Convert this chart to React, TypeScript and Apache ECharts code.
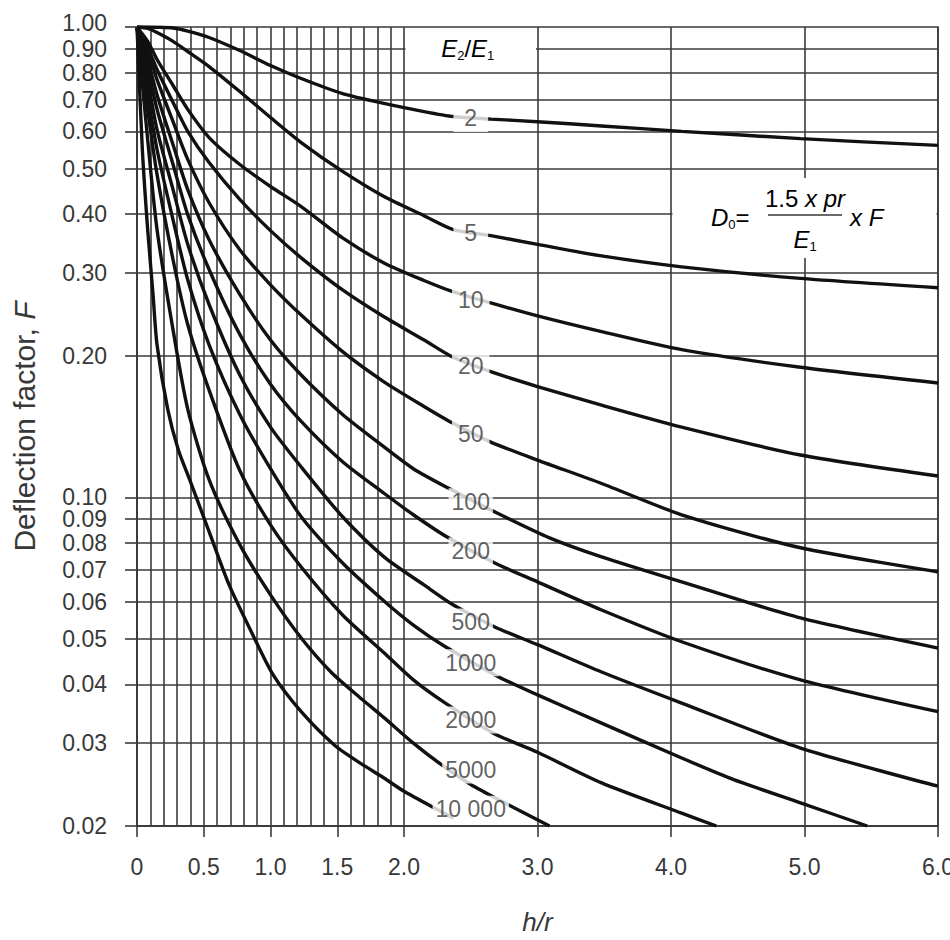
import React, { useEffect, useRef } from "react";
import * as echarts from "echarts";

// Vertical grid lines (h/r) and labelled ticks
const gridX = [0, 0.1, 0.2, 0.3, 0.4, 0.5, 0.6, 0.7, 0.8, 0.9, 1.0, 1.1, 1.2, 1.3, 1.4, 1.5, 1.6, 1.7, 1.8, 1.9, 2.0, 3.0, 4.0, 5.0, 6.0];
const tickX = [0, 0.5, 1.0, 1.5, 2.0, 3.0, 4.0, 5.0, 6.0];
// Horizontal grid lines / ticks (deflection factor F)
const tickY = [0.02, 0.03, 0.04, 0.05, 0.06, 0.07, 0.08, 0.09, 0.1, 0.2, 0.3, 0.4, 0.5, 0.6, 0.7, 0.8, 0.9];
const topTick = 1.0;

// Curve names (E2/E1)
const ratios = ["2", "5", "10", "20", "50", "100", "200", "500", "1000", "2000", "5000", "10 000"];

// Curves: [h/r, F]
const c2 = [[0, 1.0], [0.08, 1.0], [0.15, 0.999], [0.27, 0.995], [0.38, 0.98], [0.54, 0.95], [0.77, 0.891], [1.0, 0.828], [1.23, 0.777], [1.54, 0.722], [1.85, 0.688], [2.15, 0.661], [2.37, 0.645], [2.65, 0.637], [3.0, 0.629], [3.48, 0.616], [4.08, 0.6], [4.97, 0.579], [6.0, 0.56]];
const c5 = [[0, 1.0], [0.08, 0.993], [0.15, 0.973], [0.27, 0.932], [0.38, 0.887], [0.54, 0.824], [0.77, 0.729], [1.0, 0.642], [1.23, 0.568], [1.54, 0.493], [1.85, 0.436], [2.15, 0.397], [2.37, 0.371], [2.65, 0.36], [3.0, 0.345], [3.48, 0.326], [4.08, 0.309], [4.97, 0.292], [6.0, 0.279]];
const c10 = [[0, 1.0], [0.08, 0.932], [0.15, 0.853], [0.27, 0.751], [0.38, 0.668], [0.54, 0.582], [0.77, 0.51], [1.0, 0.458], [1.23, 0.415], [1.54, 0.356], [1.85, 0.315], [2.15, 0.289], [2.36, 0.274], [2.65, 0.259], [3.0, 0.243], [3.48, 0.225], [4.08, 0.206], [4.97, 0.189], [6.0, 0.175]];
const c20 = [[0, 1.0], [0.08, 0.905], [0.15, 0.812], [0.27, 0.691], [0.38, 0.6], [0.54, 0.515], [0.77, 0.43], [1.0, 0.369], [1.23, 0.323], [1.54, 0.276], [1.85, 0.242], [2.15, 0.216], [2.36, 0.199], [2.65, 0.185], [3.0, 0.172], [3.48, 0.157], [4.08, 0.141], [4.97, 0.123], [6.0, 0.111]];
const c50 = [[0, 1.0], [0.08, 0.887], [0.15, 0.773], [0.27, 0.629], [0.38, 0.523], [0.54, 0.423], [0.77, 0.336], [1.0, 0.283], [1.23, 0.244], [1.54, 0.204], [1.85, 0.176], [2.15, 0.156], [2.36, 0.144], [2.65, 0.131], [3.0, 0.12], [3.48, 0.107], [4.08, 0.0918], [4.97, 0.0781], [6.0, 0.0694]];
const c100 = [[0, 1.0], [0.08, 0.853], [0.15, 0.718], [0.27, 0.562], [0.38, 0.451], [0.54, 0.353], [0.77, 0.27], [1.0, 0.216], [1.23, 0.182], [1.54, 0.15], [1.85, 0.128], [2.07, 0.115], [2.32, 0.105], [2.68, 0.0931], [3.09, 0.082], [3.48, 0.0747], [4.08, 0.0661], [4.97, 0.0554], [6.0, 0.0478]];
const c200 = [[0, 1.0], [0.08, 0.82], [0.15, 0.668], [0.27, 0.51], [0.38, 0.399], [0.54, 0.305], [0.77, 0.222], [1.0, 0.174], [1.23, 0.145], [1.54, 0.119], [1.85, 0.102], [2.07, 0.0918], [2.32, 0.0824], [2.68, 0.0725], [3.0, 0.0661], [3.48, 0.0576], [4.08, 0.0493], [4.97, 0.0409], [6.0, 0.035]];
const c500 = [[0, 1.0], [0.08, 0.773], [0.15, 0.605], [0.27, 0.451], [0.38, 0.345], [0.54, 0.257], [0.77, 0.182], [1.0, 0.141], [1.23, 0.116], [1.54, 0.0909], [1.85, 0.0747], [2.15, 0.0651], [2.37, 0.059], [2.68, 0.053], [3.0, 0.0486], [3.48, 0.0425], [4.08, 0.0365], [4.97, 0.0293], [6.0, 0.0243]];
const c1000 = [[0, 1.0], [0.08, 0.718], [0.15, 0.549], [0.27, 0.389], [0.38, 0.29], [0.54, 0.211], [0.77, 0.15], [1.0, 0.115], [1.23, 0.0909], [1.54, 0.0725], [1.85, 0.0602], [2.07, 0.0535], [2.31, 0.0481], [2.71, 0.0415], [3.0, 0.038], [3.48, 0.0331], [4.08, 0.0279], [4.47, 0.0251], [4.97, 0.0224], [5.47, 0.02]];
const c2000 = [[0, 1.0], [0.08, 0.668], [0.15, 0.486], [0.27, 0.32], [0.38, 0.233], [0.54, 0.169], [0.77, 0.114], [1.0, 0.0874], [1.23, 0.0711], [1.54, 0.0562], [1.85, 0.0467], [2.07, 0.0409], [2.31, 0.0365], [2.67, 0.0315], [3.0, 0.0287], [3.48, 0.0247], [4.08, 0.0213], [4.34, 0.02]];
const c5000 = [[0, 1.0], [0.08, 0.576], [0.15, 0.371], [0.27, 0.227], [0.38, 0.154], [0.54, 0.109], [0.77, 0.0793], [1.0, 0.062], [1.23, 0.0502], [1.46, 0.0423], [1.69, 0.0371], [1.85, 0.034], [2.07, 0.03], [2.28, 0.027], [2.5, 0.0245], [2.74, 0.0225], [3.09, 0.02]];
const c10000 = [[0, 1.0], [0.04, 0.549], [0.08, 0.371], [0.12, 0.27], [0.15, 0.211], [0.23, 0.154], [0.31, 0.126], [0.4, 0.108], [0.54, 0.0845], [0.69, 0.0651], [0.85, 0.0522], [1.02, 0.0419], [1.23, 0.035], [1.48, 0.0297], [1.69, 0.027], [1.85, 0.0253], [2.0, 0.0237], [2.22, 0.0219], [2.37, 0.0208]];

const curves = [c2, c5, c10, c20, c50, c100, c200, c500, c1000, c2000, c5000, c10000];

// Inline curve labels: position along h/r and F
const labelX = 2.5;
const labelF = [0.642, 0.365, 0.263, 0.19, 0.136, 0.0978, 0.0769, 0.0543, 0.0445, 0.0336, 0.0263, 0.0217];

const FONT = "'Liberation Sans', Arial, Helvetica, sans-serif";
const GRID = "#3a3a3a";
const TXT = "#383838";

export default function App() {
  const ref = useRef<HTMLDivElement>(null);

  useEffect(() => {
    if (!ref.current) return;
    const chart = echarts.init(ref.current, undefined, { renderer: "svg" });

    const lineSeries = curves.map((d, i) => ({
      type: "line",
      name: ratios[i],
      data: d,
      xAxisIndex: 0,
      yAxisIndex: 0,
      symbol: "none",
      showSymbol: false,
      smooth: 0.25,
      clip: true,
      silent: true,
      z: 2,
      lineStyle: { color: "#111", width: 3.4 },
    }));

    const labelSeries = {
      type: "scatter",
      xAxisIndex: 0,
      yAxisIndex: 0,
      symbolSize: 1,
      silent: true,
      z: 10,
      itemStyle: { color: "rgba(0,0,0,0)" },
      label: {
        show: true,
        position: "inside",
        formatter: "{b}",
        fontSize: 23,
        fontFamily: FONT,
        color: TXT,
        backgroundColor: "#fff",
        padding: [2, 4],
      },
      data: ratios.map((r, i) => ({
        name: r,
        value: [labelX, labelF[i]],
        label: { padding: i < 2 ? [3, 11] : i < 5 ? [2, 6] : [2, 3] },
      })),
    };

    const option: any = {
      animation: false,
      backgroundColor: "#fff",
      grid: {
        left: 137, right: 12, top: 27, bottom: 114, containLabel: false, outerBoundsMode: "none",
        show: true, borderColor: GRID, borderWidth: 1.6, backgroundColor: "transparent",
      },
      xAxis: [
        {
          type: "value",
          min: 0,
          max: 6,
          position: "bottom",
          axisLine: { show: true, onZero: false, lineStyle: { color: GRID, width: 1.6 } },
          axisTick: { show: false, customValues: gridX },
          axisLabel: { show: false },
          splitLine: { show: true, lineStyle: { color: GRID, width: 1.6 } },
          name: "h/r",
          nameLocation: "middle",
          nameGap: 83,
          nameTextStyle: { fontStyle: "italic", fontSize: 26, color: TXT, fontFamily: FONT },
        },
        {
          type: "value",
          min: 0,
          max: 6,
          position: "bottom",
          axisLine: { show: false },
          axisTick: { show: true, customValues: tickX, length: 11, lineStyle: { color: GRID, width: 1.6 } },
          axisLabel: {
            customValues: tickX,
            margin: 29,
            fontSize: 23,
            color: TXT,
            fontFamily: FONT,
            formatter: (v: number) => (v === 0 ? "0" : v.toFixed(1)),
          },
          splitLine: { show: false },
        },
      ],
      yAxis: {
        type: "log",
        logBase: 10,
        min: 0.02,
        max: 1,
        axisLine: { show: true, onZero: false, lineStyle: { color: GRID, width: 1.6 } },
        axisTick: { show: true, customValues: tickY, length: 12, lineStyle: { color: GRID, width: 1.6 } },
        axisLabel: {
          customValues: tickY,
          margin: 30,
          fontSize: 23,
          lineHeight: 19,
          color: TXT,
          fontFamily: FONT,
          formatter: (v: number) => Number(v).toFixed(2),
        },
        splitLine: { show: true, lineStyle: { color: GRID, width: 1.6 } },
        minorSplitLine: { show: false },
        name: "Deflection factor, {i|F}",
        nameLocation: "middle",
        nameGap: 98,
        nameRotate: 90,
        nameTextStyle: {
          fontSize: 30,
          color: TXT,
          fontFamily: FONT,
          rich: { i: { fontStyle: "italic", fontSize: 30, color: TXT, fontFamily: FONT } },
        },
      },
      series: [...lineSeries, labelSeries],
    };

    chart.setOption(option);

    const X = (v: number) => chart.convertToPixel({ xAxisIndex: 0 }, v) as number;
    const Y = (v: number) => chart.convertToPixel({ yAxisIndex: 0 }, v) as number;
    const x0 = X(0), x2 = X(2), x3 = X(3), x4 = X(4), x6 = X(6);
    const yTop = Y(topTick);

    const richBase = {
      i: { fontStyle: "italic", fontSize: 24, lineHeight: 28, color: TXT, fontFamily: FONT },
      n: { fontSize: 24, lineHeight: 28, color: TXT, fontFamily: FONT },
      s: { fontSize: 13, lineHeight: 14, color: TXT, fontFamily: FONT, verticalAlign: "bottom" },
    };

    chart.setOption({
      graphic: [
        // top tick + label (1.00)
        { type: "line", z: 3, silent: true, shape: { x1: x0 - 12, y1: yTop, x2: x0, y2: yTop }, style: { stroke: GRID, lineWidth: 1.6 } },
        {
          type: "text", z: 3, silent: true, x: x0 - 30, y: yTop - 4,
          style: { text: topTick.toFixed(2), fontSize: 23, fontFamily: FONT, fill: TXT, align: "right", verticalAlign: "middle" },
        },
        { type: "rect", z: 1, silent: true, shape: { x: x2 + 1.5, y: 31, width: x3 - x2 - 3, height: 32 }, style: { fill: "#fff" } },
        {
          type: "text", z: 3, silent: true, x: (x2 + x3) / 2 - 3, y: 48,
          style: { text: "{i|E}{s|2}{n|/}{i|E}{s|1}", rich: richBase, align: "center", verticalAlign: "middle" },
        },
        { type: "rect", z: 1, silent: true, shape: { x: x4 + 1.5, y: 178, width: x6 - x4 - 3, height: 80 }, style: { fill: "#fff" } },
        {
          type: "text", z: 3, silent: true, x: 711, y: 217,
          style: { text: "{i|D}{s|0}{n|=}", rich: richBase, align: "left", verticalAlign: "middle" },
        },
        {
          type: "text", z: 3, silent: true, x: 805, y: 198,
          style: { text: "{n|1.5 }{i|x pr}", rich: richBase, align: "center", verticalAlign: "middle" },
        },
        { type: "line", z: 3, silent: true, shape: { x1: 768, y1: 215, x2: 842, y2: 215 }, style: { stroke: TXT, lineWidth: 1.6 } },
        {
          type: "text", z: 3, silent: true, x: 805, y: 239,
          style: { text: "{i|E}{s|1}", rich: richBase, align: "center", verticalAlign: "middle" },
        },
        {
          type: "text", z: 3, silent: true, x: 850, y: 217,
          style: { text: "{i|x F}", rich: richBase, align: "left", verticalAlign: "middle" },
        },
      ],
    });

    return () => chart.dispose();
  }, []);

  return (
    <div
      ref={ref}
      style={{ position: "fixed", left: 0, top: 0, width: 950, height: 940, background: "#fff" }}
    />
  );
}
